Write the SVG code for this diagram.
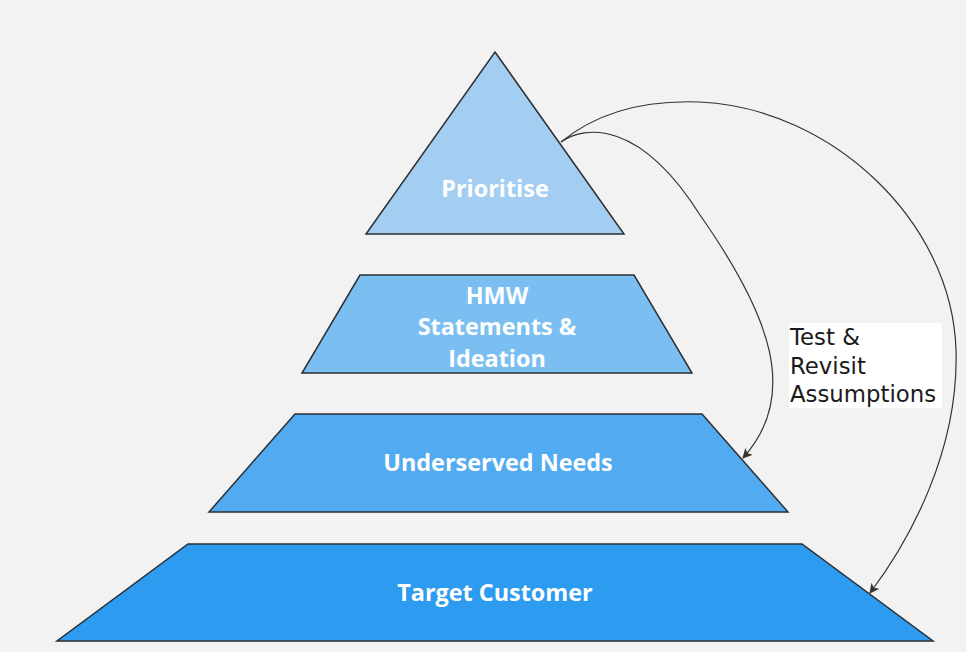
<svg xmlns="http://www.w3.org/2000/svg" width="966" height="652" viewBox="0 0 966 652">
<defs>
<style>
.shape{stroke:#2b2f33;stroke-width:1.5;stroke-linejoin:miter}
.lbl{font-family:"Open Sans","Liberation Sans",sans-serif;font-weight:700;font-size:23.4px;fill:#ffffff;text-anchor:middle}
.conn{fill:none;stroke:#333333;stroke-width:1.2}
.note{font-family:"DejaVu Sans","Liberation Sans",sans-serif;font-size:22.8px;fill:#1a1a1a}
</style>
<marker id="arr" viewBox="0 0 10 10" refX="9" refY="5" markerWidth="10" markerHeight="10" markerUnits="userSpaceOnUse" orient="auto">
<path d="M0,0 L10,5 L0,10 L2.5,5 Z" fill="#333333"/>
</marker>
</defs>
<rect width="966" height="652" fill="#f2f2f2"/>
<g id="prioritise">
<polygon class="shape" points="495,52 624,234 366,234" fill="#a3cef1"/>
<text class="lbl" x="495" y="197">Prioritise</text>
</g>
<g id="hmw">
<polygon class="shape" points="360,275 634,275 692,373 302,373" fill="#7bbff2"/>
<text class="lbl" x="497" y="304">HMW</text>
<text class="lbl" x="497" y="335">Statements &amp;</text>
<text class="lbl" x="497" y="367">Ideation</text>
</g>
<g id="needs">
<polygon class="shape" points="295,414 702,414 788,512 209,512" fill="#52abf0"/>
<text class="lbl" x="498" y="471">Underserved Needs</text>
</g>
<g id="customer">
<polygon class="shape" points="188,544 802,544 933,641 57,641" fill="#2d9bf0"/>
<text class="lbl" x="495" y="601">Target Customer</text>
</g>
<g id="connectors">
<path class="conn" d="M561,142 C585,125 640,120 700,215 C770,315 800,395 743,458" marker-end="url(#arr)"/>
<path class="conn" d="M561,142 C600,110 650,100 700,102 C830,108 952,220 956,350 C959,450 910,540 870,593" marker-end="url(#arr)"/>
</g>
<g id="note">
<rect x="789" y="323" width="153" height="85" fill="#ffffff"/>
<text class="note" x="790" y="345">Test &amp;</text>
<text class="note" x="790" y="374">Revisit</text>
<text class="note" x="790" y="402">Assumptions</text>
</g>
</svg>
